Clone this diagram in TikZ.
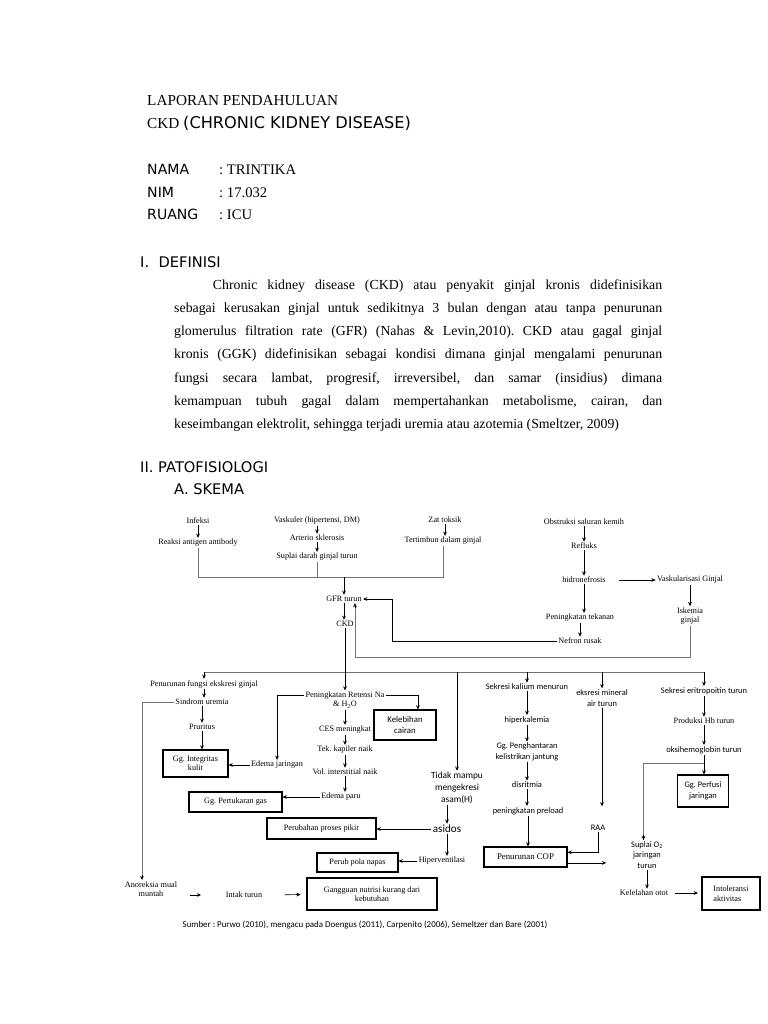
\documentclass[tikz,border=0pt]{standalone}
\usepackage{fontspec}
\setmainfont{Liberation Serif}
\newfontfamily\headsans{DejaVu Sans}
\newfontfamily\calibfont{Carlito}
\usetikzlibrary{arrows.meta}
\frenchspacing

\begin{document}
\begin{tikzpicture}[x=0.03cm,y=-0.03cm,
  sr/.style={font=\fontsize{7}{8}\selectfont,inner sep=1pt,align=center},
  cb/.style={font=\calibfont\fontsize{7.2}{9}\selectfont,inner sep=1pt,align=center},
  bx/.style n args={2}{draw,line width=0.9pt,minimum width=#1*0.03cm,minimum height=#2*0.03cm},
  hd/.style={anchor=base west,inner sep=0pt},
  arr/.style={-{Stealth[length=3.6pt,width=3.2pt]},semithick},
  ln/.style={semithick,black!55}]
  \fill[white] (0,0) rectangle (768,1024);
  \useasboundingbox (0,0) rectangle (768,1024);

  \node[hd,font=\fontsize{13}{15}\selectfont] (ttl) at (147,105) {LAPORAN PENDAHULUAN};
  \node[hd,font=\fontsize{13}{15}\selectfont] (sub) at (147,128) {CKD {\headsans\fontsize{13.8}{15}\selectfont (CHRONIC KIDNEY DISEASE)}};
  \foreach \n/\y/\k/\v in {nama/174/NAMA/TRINTIKA,nim/197/NIM/17.032,ruang/219/RUANG/ICU} {
    \node[hd,font=\headsans\fontsize{12}{14}\selectfont] (\n) at (147,\y) {\k};
    \node[hd,font=\fontsize{12.5}{14}\selectfont] (\n-v) at (219,\y) {: \v};
  }
  \node[hd,font=\headsans\fontsize{12.5}{14}\selectfont] (def) at (140,267) {I.\hspace{8pt}DEFINISI};
  \node[hd,text width=14.64cm,align=justify,font=\fontsize{11.8}{19.9}\selectfont] (par) at (174,289)
    {\hspace*{33pt}Chronic kidney disease (CKD) atau penyakit ginjal kronis didefinisikan\linebreak
     sebagai kerusakan ginjal untuk sedikitnya 3 bulan dengan atau tanpa penurunan\linebreak
     glomerulus filtration rate (GFR) (Nahas \& Levin,2010). CKD atau gagal ginjal\linebreak
     kronis (GGK) didefinisikan sebagai kondisi dimana ginjal mengalami penurunan\linebreak
     fungsi secara lambat, progresif, irreversibel, dan samar (insidius) dimana\linebreak
     kemampuan tubuh gagal dalam mempertahankan metabolisme, cairan, dan\linebreak
     keseimbangan elektrolit, sehingga terjadi uremia atau azotemia (Smeltzer, 2009)};
  \node[hd,font=\headsans\fontsize{12.5}{14}\selectfont] (pat) at (140,472) {II.\hspace{4pt}PATOFISIOLOGI};
  \node[hd,font=\headsans\fontsize{12.5}{14}\selectfont] (ske) at (174,494) {A.\hspace{4pt}SKEMA};

  \foreach \n/\x/\y/\t in {inf/198/521/Infeksi, rea/198/543/Reaksi antigen antibody,
    vas/317/521/{Vaskuler (hipertensi, DM)}, art/317/538/Arterio sklerosis,
    sup/317/557/Suplai darah ginjal turun, zat/445/520/Zat toksik, ter/443/541/Tertimbun dalam ginjal,
    obs/584/522/Obstruksi saluran kemih, ref/584/546/Refluks, hid/584/580/hidronefrosis,
    vkg/690/580/Vaskularisasi Ginjal, isk/690/616/Iskemia\\ginjal, pte/580/618/Peningkatan tekanan,
    nef/580/641/Nefron rusak, gfr/344/599/GFR turun, ckd/345/624/CKD,
    pfe/204/684/Penurunan fungsi ekskresi ginjal, sdu/202/702/Sindrom uremia, pru/202/727/Pruritus,
    ejr/277/765/Edema jaringan, prn/345/700/Peningkatan Retensi Na\\\& H\textsubscript{2}O,
    ces/345/730/CES meningkat, tek/345/750/Tek. kapiler naik, vol/345/772/Vol. interstitial naik,
    epa/341/797/Edema paru, hip/442/861/Hiperventilasi, ano/151/889/Anoreksia mual\\muntah,
    itk/244/895/Intak turun, phb/704/721/Produksi Hb turun, klo/644/893/Kelelahan otot}
    \node[sr] (\n) at (\x,\y) {\t};
  \foreach \n/\x/\y/\t in {skm/527/687/Sekresi kalium menurun, hpk/527/720/hiperkalemia,
    ggp/527/752/Gg. Penghantaran\\kelistrikan jantung, dis/527/785/disritmia,
    pre/528/811/peningkatan preload, emi/602/698/eksresi mineral\\air turun, raa/598/828/RAA,
    set/704/691/Sekresi eritropoitin turun, oks/704/750/oksihemoglobin turun,
    so2/647/855/Suplai O\textsubscript{2}\\jaringan\\turun}
    \node[cb] (\n) at (\x,\y) {\t};
  \node[cb,font=\calibfont\fontsize{8}{10.2}\selectfont] (tma) at (457,788) {Tidak mampu\\mengekresi\\asam(H)};
  \node[cb,font=\calibfont\fontsize{9.5}{11}\selectfont] (asi) at (447,829) {asidos};

  \node[sr,bx={65}{27}] (gik) at (195.5,763.5) {Gg. Integritas\\kulit};
  \node[cb,bx={62}{30},font=\calibfont\fontsize{7.5}{9}\selectfont] (kel) at (405,725) {Kelebihan\\cairan};
  \node[sr,bx={93}{20}] (gpg) at (235.5,802) {Gg. Pertukaran gas};
  \node[sr,bx={109}{21}] (ppp) at (321.5,828.5) {Perubahan proses pikir};
  \node[sr,bx={81}{19}] (ppn) at (357.5,862.5) {Perub pola napas};
  \node[sr,bx={130}{32}] (gnk) at (372,894) {Gangguan nutrisi kurang dari\\kebutuhan};
  \node[sr,bx={83}{20},font=\fontsize{7.5}{9}\selectfont] (cop) at (525.5,857) {Penurunan COP};
  \node[cb,bx={51}{32}] (gpj) at (703,791) {Gg. Perfusi\\jaringan};
  \node[sr,bx={58}{33},align=left] (iak) at (731,893.5) {Intoleransi\\aktivitas};
  \node[cb,font=\calibfont\fontsize{7.6}{9}\selectfont] (src) at (365,925)
    {Sumber : Purwo (2010), mengacu pada Doengus (2011), Carpenito (2006), Semeltzer dan Bare (2001)};

  \coordinate (tB) at (344,577);
  \coordinate (gR) at (392,599);
  \coordinate (iB) at (355,657);
  \coordinate (bL) at (204,672);
  \coordinate (bR) at (704,672);
  \coordinate (aL) at (142,702);
  \coordinate (oJ) at (704,763);

  \foreach \a/\b in {inf/rea,vas/art,art/sup,zat/ter,obs/ref,ref/hid,vkg/isk,hid/pte,pte/nef,gfr/ckd,
    pfe/sdu,sdu/pru,prn/ces,ces/tek,tek/vol,vol/epa,skm/hpk,hpk/ggp,ggp/dis,dis/pre,set/phb,phb/oks,so2/klo}
    \draw[arr] (\a.south) -- (\a.south |- \b.north);
  \draw[arr,shorten <=10pt] (hid) -- (vkg);
  \draw[ln] (rea.south) |- (ter.south |- tB) -- (ter.south);
  \draw[ln] (sup.south) -- (sup.south |- tB);
  \draw[arr] (tB) -- (gfr.north);
  \draw[arr] (nef.west) -| (gR) -- (gfr.east);
  \draw[ln] (isk.south) |- (iB) -- ([yshift=-4pt]iB |- gfr.south);
  \draw[arr] ([yshift=-4pt]iB |- gfr.south) -- (iB |- gfr.south);
  \draw[ln] (bL) -- (bR);
  \draw[arr] (ckd.south) -- (prn.north);
  \draw[arr] (bL) -- (pfe.north);
  \foreach \n in {tma,skm,emi,set}
    \draw[arr] (\n.north |- bL) -- (\n.north);
  \draw[arr] (pru.south) -- (pru.south |- gik.north);
  \draw[ln] (sdu.west) -- (aL) -- ([yshift=4pt]aL |- ano.north);
  \draw[arr] ([yshift=4pt]aL |- ano.north) -- (aL |- ano.north);
  \draw[arr] (ejr.west) -- (ejr.west -| gik.east);
  \draw[arr] ([yshift=4pt]prn.west) -| (ejr.north);
  \draw[arr] ([yshift=4pt]prn.east) -| ([xshift=11pt]kel.north);
  \draw[arr] (epa.west) -- (epa.west -| gpg.east);
  \draw[arr] (asi.north |- tma.south) -- (asi.north);
  \draw[arr] (asi.west) -- (asi.west -| ppp.east);
  \draw[arr] (asi.south) -- (asi.south |- hip.north);
  \draw[arr] (hip.west) -- (hip.west -| ppn.east);
  \draw[arr,shorten <=10pt,shorten >=20pt] (ano.east |- itk) -- (itk.west);
  \draw[arr,shorten <=18pt,shorten >=5pt] (itk) -- (gnk);
  \draw[arr] (pre.south) -- (pre.south |- cop.north);
  \draw[arr,shorten >=15pt] (emi.south) -- (emi.south |- raa.north);
  \draw[arr] (raa.south) |- ([yshift=4pt]cop.east);
  \draw[arr,shorten >=20pt] ([yshift=-5pt]cop.east) -- ([yshift=-5pt]cop.east -| so2.west);
  \draw[arr] (oks.south) -- (oks.south |- gpj.north);
  \draw[ln] (oJ) -| ([xshift=-3pt]so2.north);
  \draw[arr] ([xshift=-3pt,yshift=4pt]so2.north) -- ([xshift=-3pt]so2.north);
  \draw[arr,shorten <=5pt,shorten >=3pt] (klo.east) -- (klo.east -| iak.west);
\end{tikzpicture}
\end{document}
